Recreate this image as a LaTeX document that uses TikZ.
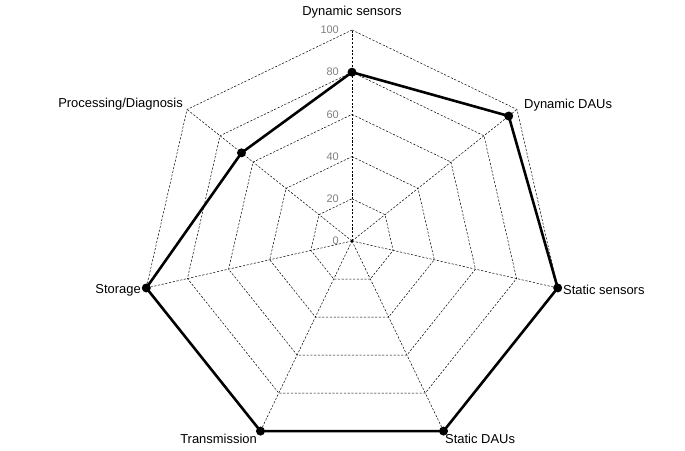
\documentclass[tikz,border=0pt]{standalone}
\usepackage{fontspec}
\setmainfont{Liberation Sans}
\usetikzlibrary{calc}
\tikzset{
  grid/.style={dashed, line width=0.5pt, dash pattern=on 2.2pt off 1.6pt},
  tick/.style={text=gray, font=\fontsize{11}{12}\selectfont, anchor=east, inner sep=1pt},
  axislabel/.style={font=\fontsize{13}{15}\selectfont, inner sep=1pt},
  dot/.style={circle, fill=black, minimum size=9bp, inner sep=0pt},
}
\begin{document}
\begin{tikzpicture}[x=1bp, y=1bp]
    \useasboundingbox (0,0) rectangle (685,451);
    \coordinate (c) at (352,210);
    % grid
    \begin{scope}[shift={(c)}]
    \foreach \r in {42.2,84.4,126.6,168.8,211}{
        \draw[grid] (90:\r) \foreach \i in {1,...,6}{ -- ({90-\i*360/7}:\r)} -- cycle;
    }
    \foreach \i in {0,...,6}{
        \draw[grid] (0,0) -- ({90-\i*360/7}:211);
    }
    \foreach \v [count=\k from 0] in {0,20,40,60,80,100}{
        \node[tick] (t\v) at (-12,{\k*42.2}) {\v};
    }
    % data
    \foreach \v [count=\i from 0] in {80,95,100,100,100,100,67}{
        \node[dot] (p\i) at ({90-\i*360/7}:{2.11*\v}) {};
    }
    \end{scope}
    \draw[line width=2.6pt, line join=round] (p0.center) -- (p1.center) -- (p2.center) -- (p3.center) -- (p4.center) -- (p5.center) -- (p6.center) -- cycle;
    \node[dot] at (c) [minimum size=3bp] {};
    % labels
    \node[axislabel] (l0) at (352,439) {Dynamic sensors};
    \node[axislabel, anchor=west] (l1) at (523,346) {Dynamic DAUs};
    \node[axislabel, anchor=west] (l2) at (562,161) {Static sensors};
    \node[axislabel, anchor=west] (l3) at (444,12) {Static DAUs};
    \node[axislabel, anchor=east] (l4) at (258,12) {Transmission};
    \node[axislabel, anchor=east] (l5) at (142,161) {Storage};
    \node[axislabel, anchor=east] (l6) at (184,347) {Processing/Diagnosis};
\end{tikzpicture}
\end{document}
